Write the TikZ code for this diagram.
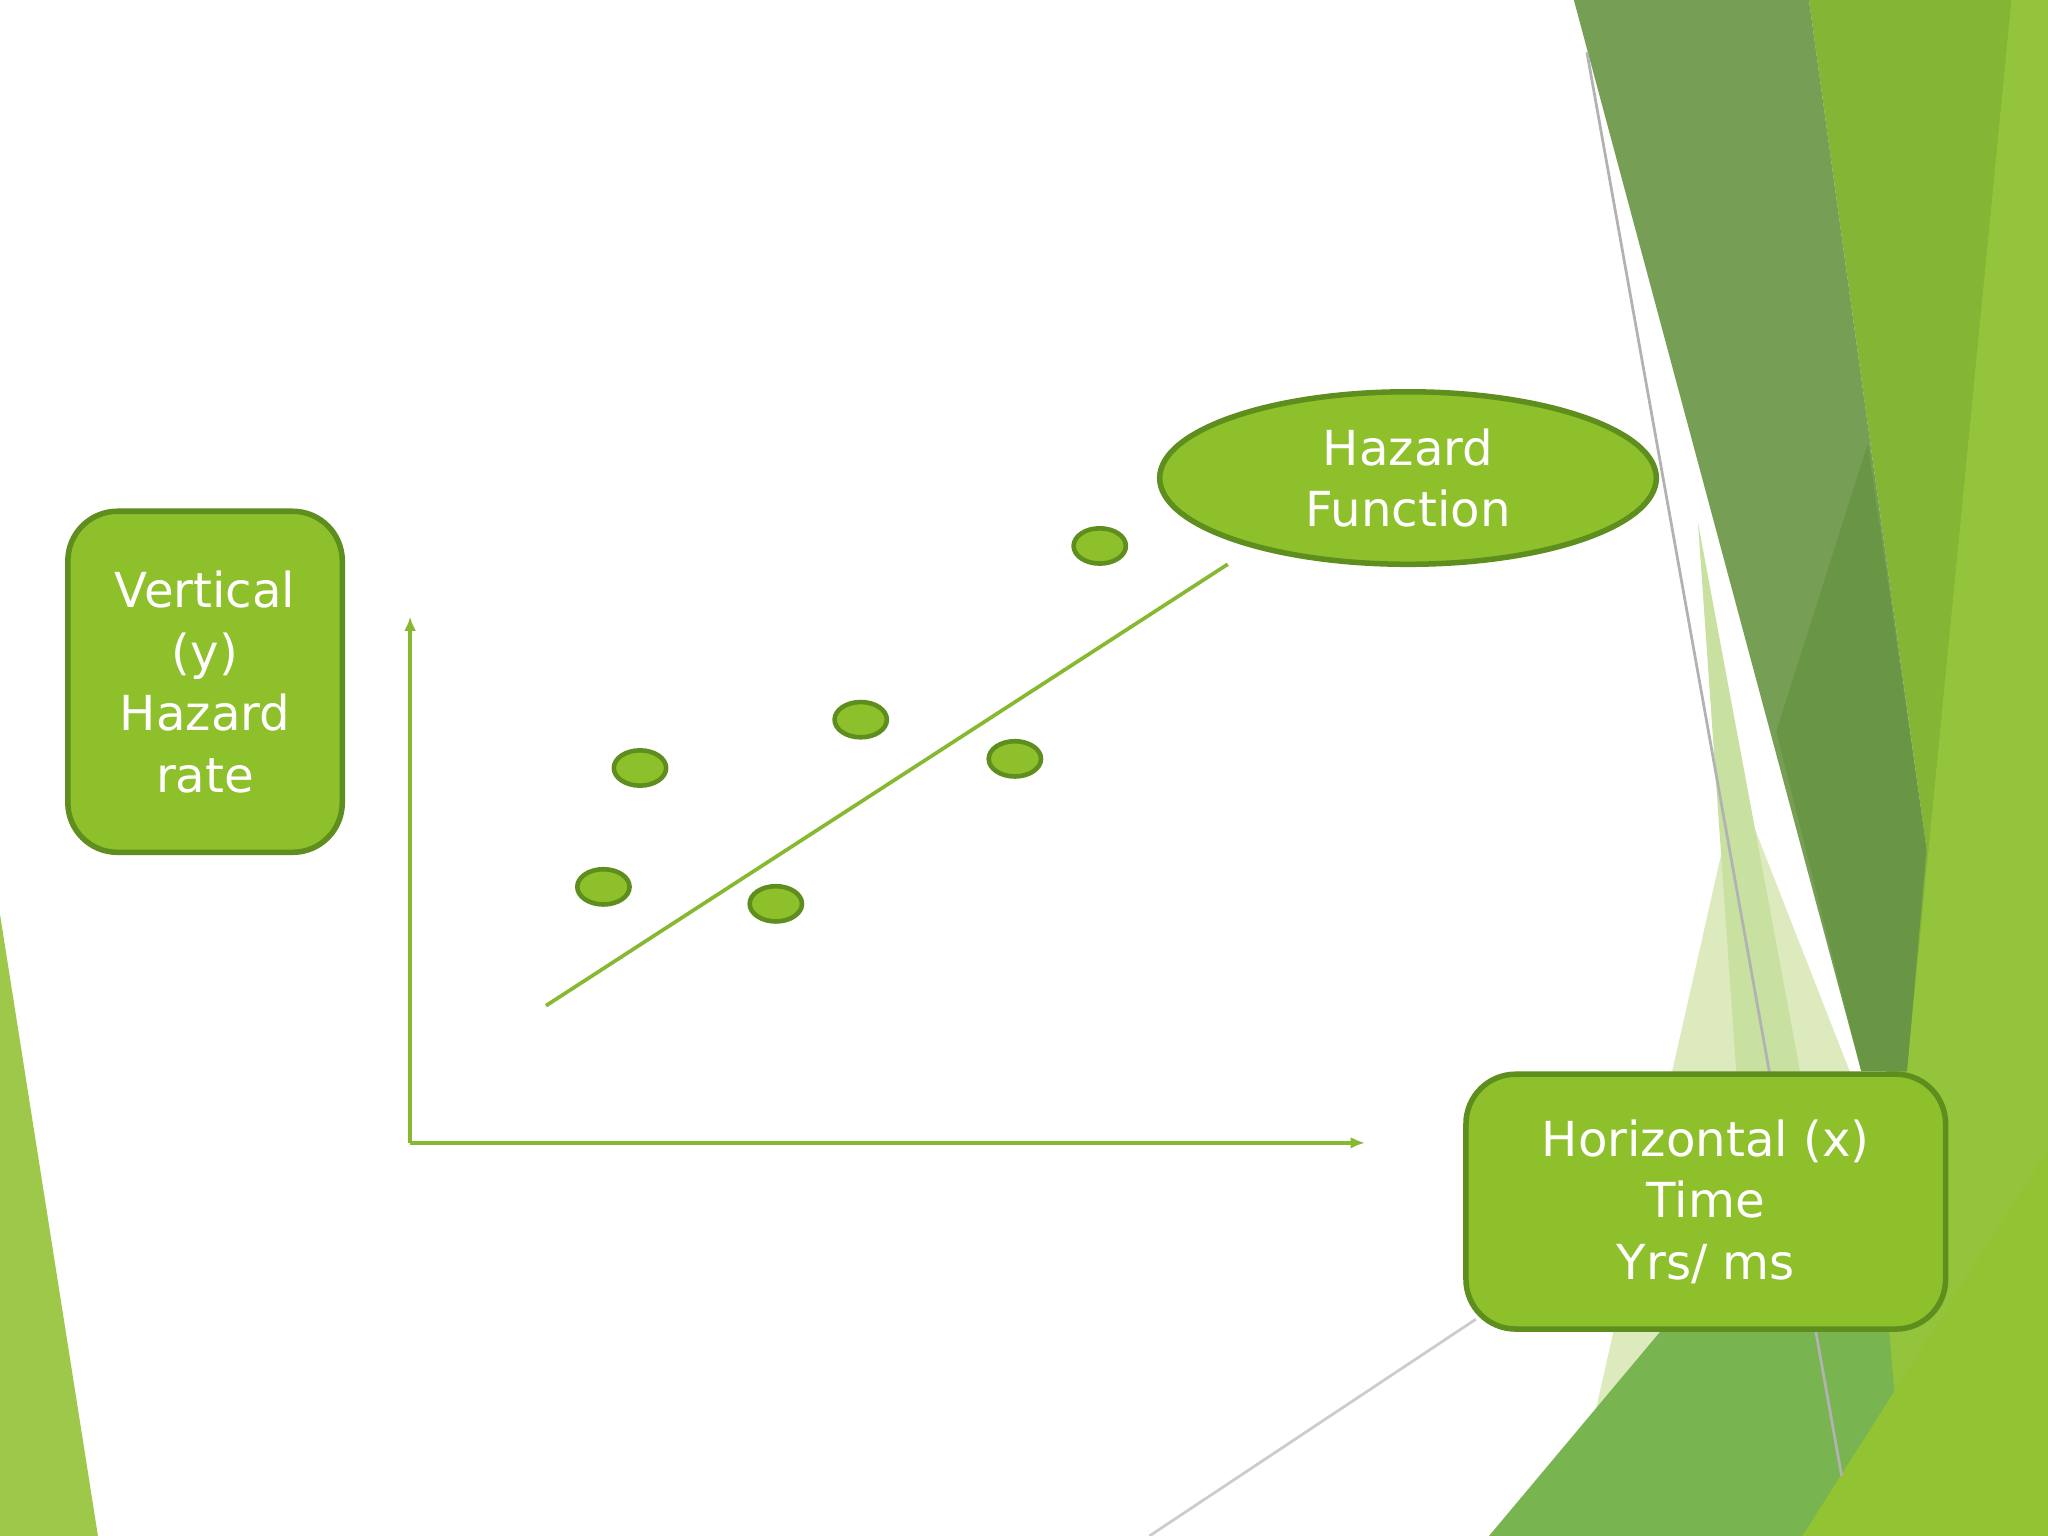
\documentclass[tikz,border=0pt]{standalone}
\usepackage{fontspec}
\setmainfont{DejaVu Sans}
\usetikzlibrary{shapes.geometric,arrows.meta}
\definecolor{gfill}{HTML}{8EC02C}
\definecolor{gedge}{HTML}{5E8E1E}
\definecolor{ax}{HTML}{86B830}
\tikzset{
  box/.style={draw=gedge,line width=1.2pt,fill=gfill,rounded corners=0.38cm,text=white,align=center,font=\fontsize{10.5}{13.4}\selectfont,inner sep=0pt},
  dot/.style={ellipse,draw=gedge,line width=1pt,fill=gfill,minimum width=0.4cm,minimum height=0.27cm,inner sep=0pt},
  axis/.style={draw=ax,line width=0.8pt,-{Latex[length=0.11cm,width=0.09cm]}}
}
\begin{document}
\begin{tikzpicture}[x=0.01cm,y=-0.01cm]
\useasboundingbox (0,0) rectangle (1568,1176);
% background decoration
\fill[white] (0,0) rectangle (1568,1176);
\fill[color={rgb,255:red,157;green,200;blue,74}] (0,700) -- (75,1176) -- (0,1176) -- cycle;
\fill[color={rgb,255:red,132;green,181;blue,52}] (1385,0) -- (1568,0) -- (1568,1176) -- (1380,1176) -- (1475,650) -- cycle;
\fill[color={rgb,255:red,148;green,196;blue,60}] (1540,0) -- (1568,0) -- (1568,1176) -- (1420,1176) -- (1460,820) -- cycle;
\fill[color={rgb,255:red,220;green,234;blue,190}] (1200,1176) -- (1330,600) -- (1420,830) -- (1430,1176) -- cycle;
\fill[color={rgb,255:red,200;green,225;blue,160}] (1300,400) -- (1380,830) -- (1330,830) -- cycle;
\fill[color={rgb,255:red,118;green,158;blue,84}] (1205,0) -- (1385,0) -- (1475,650) -- (1460,820) -- (1425,820) -- cycle;
\fill[color={rgb,255:red,104;green,150;blue,68}] (1360,560) -- (1430,340) -- (1475,650) -- (1460,820) -- (1425,820) -- cycle;
\fill[color={rgb,255:red,120;green,180;blue,80}] (1140,1176) -- (1430,830) -- (1460,1176) -- cycle;
\fill[color={rgb,255:red,145;green,195;blue,50}] (1380,1176) -- (1568,880) -- (1568,1176) -- cycle;
\draw[gray!60,line width=0.6pt] (1215,40) -- (1410,1130);
\draw[gray!40,line width=0.6pt] (880,1176) -- (1130,1010);
% boxes
\node[box,minimum width=2.1cm,minimum height=2.61cm] (v) at (157,522) {Vertical\\(y)\\Hazard\\rate};
\node[box,minimum width=3.67cm,minimum height=1.95cm] (h) at (1306,920) {Horizontal (x)\\Time\\Yrs/ ms};
\node[ellipse,draw=gedge,line width=1.2pt,fill=gfill,text=white,align=center,font=\fontsize{10.5}{13.4}\selectfont,minimum width=3.8cm,minimum height=1.32cm,inner sep=0pt] (f) at (1078,366) {Hazard\\Function};
% axes
\coordinate (o) at (314,875);
\coordinate (yt) at (314,472);
\coordinate (xt) at (1045,875);
\draw[axis] (o) -- (yt);
\draw[axis] (o) -- (xt);
\coordinate (l1) at (418,770);
\coordinate (l2) at (940,432);
\draw[ax,line width=0.8pt] (l1) -- (l2);
% dots
\node[dot] (d1) at (490,588) {};
\node[dot] (d2) at (659,551) {};
\node[dot] (d3) at (777,581) {};
\node[dot] (d4) at (842,418) {};
\node[dot] (d5) at (462,679) {};
\node[dot] (d6) at (594,692) {};
\end{tikzpicture}
\end{document}
